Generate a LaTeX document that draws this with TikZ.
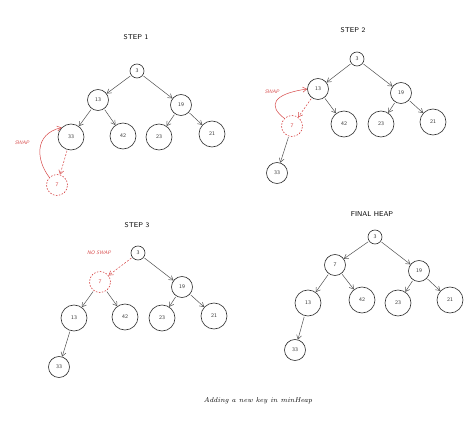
\documentclass[tikz,border=0pt]{standalone}
\usetikzlibrary{arrows.meta}
\definecolor{ink}{RGB}{50,50,50}
\definecolor{swapred}{RGB}{214,70,70}
\begin{document}
\begin{tikzpicture}[x=1pt,y=-1pt,
 key/.style={circle,draw=ink,line width=0.65pt,inner sep=0pt,font=\sffamily\fontsize{5.5}{5.5}\selectfont,text=ink},
 ks/.style={key,minimum size=14pt},
 km/.style={key,minimum size=21pt},
 kb/.style={key,minimum size=26pt},
 newkey/.style={draw=swapred,dashed,dash pattern=on 1.5pt off 1.5pt,text=swapred},
 edge/.style={draw=ink!85,line width=0.5pt,-{Straight Barb[length=4pt,width=5pt]},shorten <=1pt},
 redge/.style={draw=swapred,line width=0.5pt,dashed,dash pattern=on 2pt off 1.5pt,-{Straight Barb[length=4pt,width=5pt]},shorten <=1pt},
 swap/.style={draw=swapred,line width=0.5pt,-{Straight Barb[length=4pt,width=5pt]}},
 title/.style={font=\sffamily\fontsize{7}{7}\selectfont,text=black},
 rlabel/.style={font=\sffamily\itshape\fontsize{5}{5}\selectfont,text=swapred},
]
\useasboundingbox (0,0) rectangle (474,434);

% ---------- STEP 1
\node[title] (t1) at (136,37) {STEP 1};
\node[ks] (a3) at (137,71) {3};
\node[km] (a13) at (98,100) {13};
\node[km] (a19) at (181,105) {19};
\node[kb] (a33) at (71,137) {33};
\node[kb] (a42) at (123,136) {42};
\node[kb] (a23) at (159,137) {23};
\node[kb] (a21) at (212,134) {21};
\node[km,newkey] (a7) at (57,185) {7};
\node[rlabel] (as) at (22,143) {SWAP};
\draw[edge] (a3) -- (a13);
\draw[edge] (a3) -- (a19);
\draw[edge] (a13) -- (a33);
\draw[edge] (a13) -- (a42);
\draw[edge] (a19) -- (a23);
\draw[edge] (a19) -- (a21);
\draw[redge] (a33) -- (a7);
\draw[swap] (a7.north west) .. controls (36,160) and (34,134) .. (a33.north west);

% ---------- STEP 2
\node[title] (t2) at (353,30) {STEP 2};
\node[ks] (b3) at (357,59) {3};
\node[km] (b13) at (318,89) {13};
\node[km] (b19) at (401,93) {19};
\node[km,newkey] (b7) at (292,126) {7};
\node[kb] (b42) at (344,124) {42};
\node[kb] (b23) at (381,124) {23};
\node[kb] (b21) at (433,122) {21};
\node[km] (b33) at (277,173) {33};
\node[rlabel] (bs) at (272,92) {SWAP};
\draw[edge] (b3) -- (b13);
\draw[edge] (b3) -- (b19);
\draw[redge] (b13) -- (b7);
\draw[edge] (b13) -- (b42);
\draw[edge] (b19) -- (b23);
\draw[edge] (b19) -- (b21);
\draw[edge] (b7) -- (b33);
\draw[swap] (b7.north west) .. controls (268,106) and (272,94) .. (b13.west);

% ---------- STEP 3
\node[title] (t3) at (137,225) {STEP 3};
\node[ks] (c3) at (138,253) {3};
\node[km,newkey] (c7) at (100,282) {7};
\node[km] (c19) at (182,287) {19};
\node[kb] (c13) at (74,318) {13};
\node[kb] (c42) at (125,317) {42};
\node[kb] (c23) at (162,318) {23};
\node[kb] (c21) at (214,316) {21};
\node[km] (c33) at (59,367) {33};
\node[rlabel] (cs) at (99,253) {NO SWAP};
\draw[redge] (c3) -- (c7);
\draw[edge] (c3) -- (c19);
\draw[edge] (c7) -- (c13);
\draw[edge] (c7) -- (c42);
\draw[edge] (c19) -- (c23);
\draw[edge] (c19) -- (c21);
\draw[edge] (c13) -- (c33);

% ---------- FINAL HEAP
\node[title] (t4) at (372,214) {FINAL HEAP};
\node[ks] (d3) at (375,237) {3};
\node[km] (d7) at (335,265) {7};
\node[km] (d19) at (419,271) {19};
\node[kb] (d13) at (308,303) {13};
\node[kb] (d42) at (362,300) {42};
\node[kb] (d23) at (398,303) {23};
\node[kb] (d21) at (450,300) {21};
\node[km] (d33) at (295,350) {33};
\draw[edge] (d3) -- (d7);
\draw[edge] (d3) -- (d19);
\draw[edge] (d7) -- (d13);
\draw[edge] (d7) -- (d42);
\draw[edge] (d19) -- (d23);
\draw[edge] (d19) -- (d21);
\draw[edge] (d13) -- (d33);

% ---------- caption
\node[font=\itshape\fontsize{7}{7}\selectfont] (cap) at (258,401) {Adding a new key in minHeap};
\end{tikzpicture}
\end{document}
